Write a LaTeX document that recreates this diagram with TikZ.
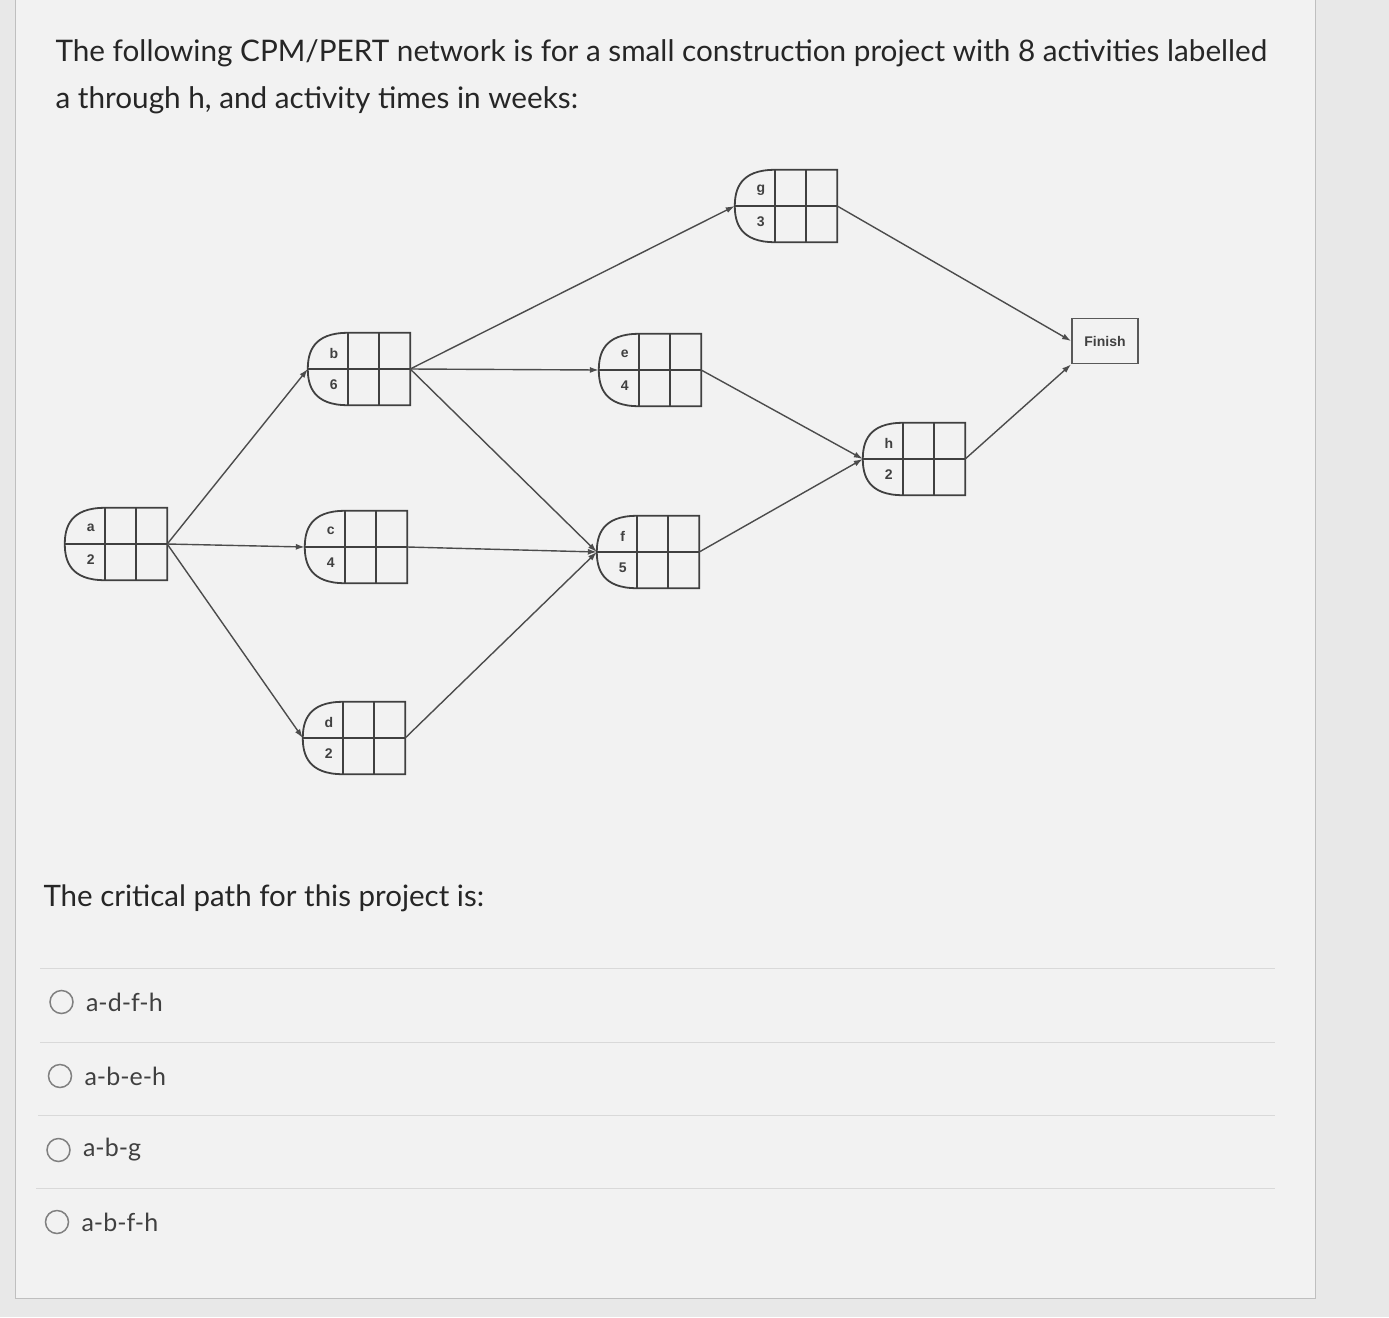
\documentclass[tikz,border=0pt]{standalone}
\usepackage{fontspec}
\setmainfont{Lato}
\newfontfamily\diag{Liberation Sans}
\begin{document}
\begin{tikzpicture}[x=1pt,y=-1pt,
  conn/.style={draw=black!70,line width=1.4pt,-{Latex[length=9pt,width=6pt]}},
  box/.style={draw=black!75,line width=1.8pt},
  sep/.style={draw=black!15,line width=1pt},
  opt/.style={anchor=west,font=\fontsize{25}{28}\selectfont,text=black!75},
  hold/.style={minimum width=102pt,minimum height=72pt,inner sep=0pt,draw=none}]
\usetikzlibrary{arrows.meta}
\useasboundingbox (0,0) rectangle (1389,1317);
\fill[black!9] (0,0) rectangle (1389,1317);
\fill[black!5] (15,0) rectangle (1315,1298);
\draw[black!25,line width=1pt] (15,0) -- (15,1298) -- (1315,1298) -- (1315,0);
\node[anchor=north west,align=left,font=\fontsize{29.7}{47}\selectfont,text=black!85] (title) at (52,36)
 {The following CPM/PERT network is for a small construction project with 8 activities labelled\\a through h, and activity times in weeks:};
\newcommand{\actnode}[5]{%
 \node[hold] (#1) at (#2,#3) {};
 \draw[box] ($(#1.north west)+(40,0)$) -- (#1.north east) -- (#1.south east) -- ($(#1.south west)+(40,0)$)
   .. controls ($(#1.south west)+(5,0)$) and ($(#1.south west)+(0,-20)$) .. (#1.west)
   .. controls ($(#1.north west)+(0,20)$) and ($(#1.north west)+(5,0)$) .. ($(#1.north west)+(40,0)$) -- cycle;
 \draw[box] ($(#1.north west)+(40,0)$) -- ($(#1.south west)+(40,0)$);
 \draw[box] ($(#1.north west)+(71,0)$) -- ($(#1.south west)+(71,0)$);
 \draw[box] (#1.west) -- (#1.east);
 \node[font=\diag\bfseries\fontsize{14}{16}\selectfont,text=black!75] (#1l) at ($(#1.west)+(26,-16)$) {#4};
 \node[font=\diag\bfseries\fontsize{14}{16}\selectfont,text=black!75] (#1d) at ($(#1.west)+(26,16)$) {#5};
}
\usetikzlibrary{calc}
\actnode{a}{116}{544}{a}{2}
\actnode{b}{359}{369}{b}{6}
\actnode{c}{356}{547}{c}{4}
\actnode{d}{354}{738}{d}{2}
\actnode{e}{650}{370}{e}{4}
\actnode{f}{648}{552}{f}{5}
\actnode{g}{786}{206}{g}{3}
\actnode{h}{914}{459}{h}{2}
\node[box,draw=black!65,minimum width=66pt,minimum height=45pt,inner sep=0pt,font=\diag\bfseries\fontsize{14}{16}\selectfont,text=black!75] (fin) at (1105,341) {Finish};
\draw[conn] (a.east) -- (b.west);
\draw[conn] (a.east) -- (c.west);
\draw[conn] (a.east) -- (d.west);
\draw[conn] (b.east) -- (g.west);
\draw[conn] (b.east) -- (e.west);
\draw[conn] (b.east) -- (f.west);
\draw[conn] (c.east) -- (f.west);
\draw[conn] (d.east) -- (f.west);
\draw[conn] (e.east) -- (h.west);
\draw[conn] (f.east) -- (h.west);
\draw[conn] (g.east) -- (fin.west);
\draw[conn] (h.east) -- (fin.south west);
\node[anchor=west,font=\fontsize{29.5}{32}\selectfont,text=black!85] (q) at (40,898) {The critical path for this project is:};
\draw[sep] (40,968) -- (1275,968);
\draw[sep] (40,1042) -- (1275,1042);
\draw[sep] (38,1115) -- (1275,1115);
\draw[sep] (36,1188) -- (1275,1188);
\foreach \y/\t/\n [count=\i] in {1002/a-d-f-h/o1,1076/a-b-e-h/o2,1150/a-b-g/o3,1222/a-b-f-h/o4}{
  \node[circle,draw=black!50,line width=1.5pt,minimum size=23pt,inner sep=0pt] (c\n) at (63-1.5*\i,\y) {};
  \node[opt] (t\n) at (84-1.5*\i,\y) {\t};
}
\end{tikzpicture}
\end{document}
